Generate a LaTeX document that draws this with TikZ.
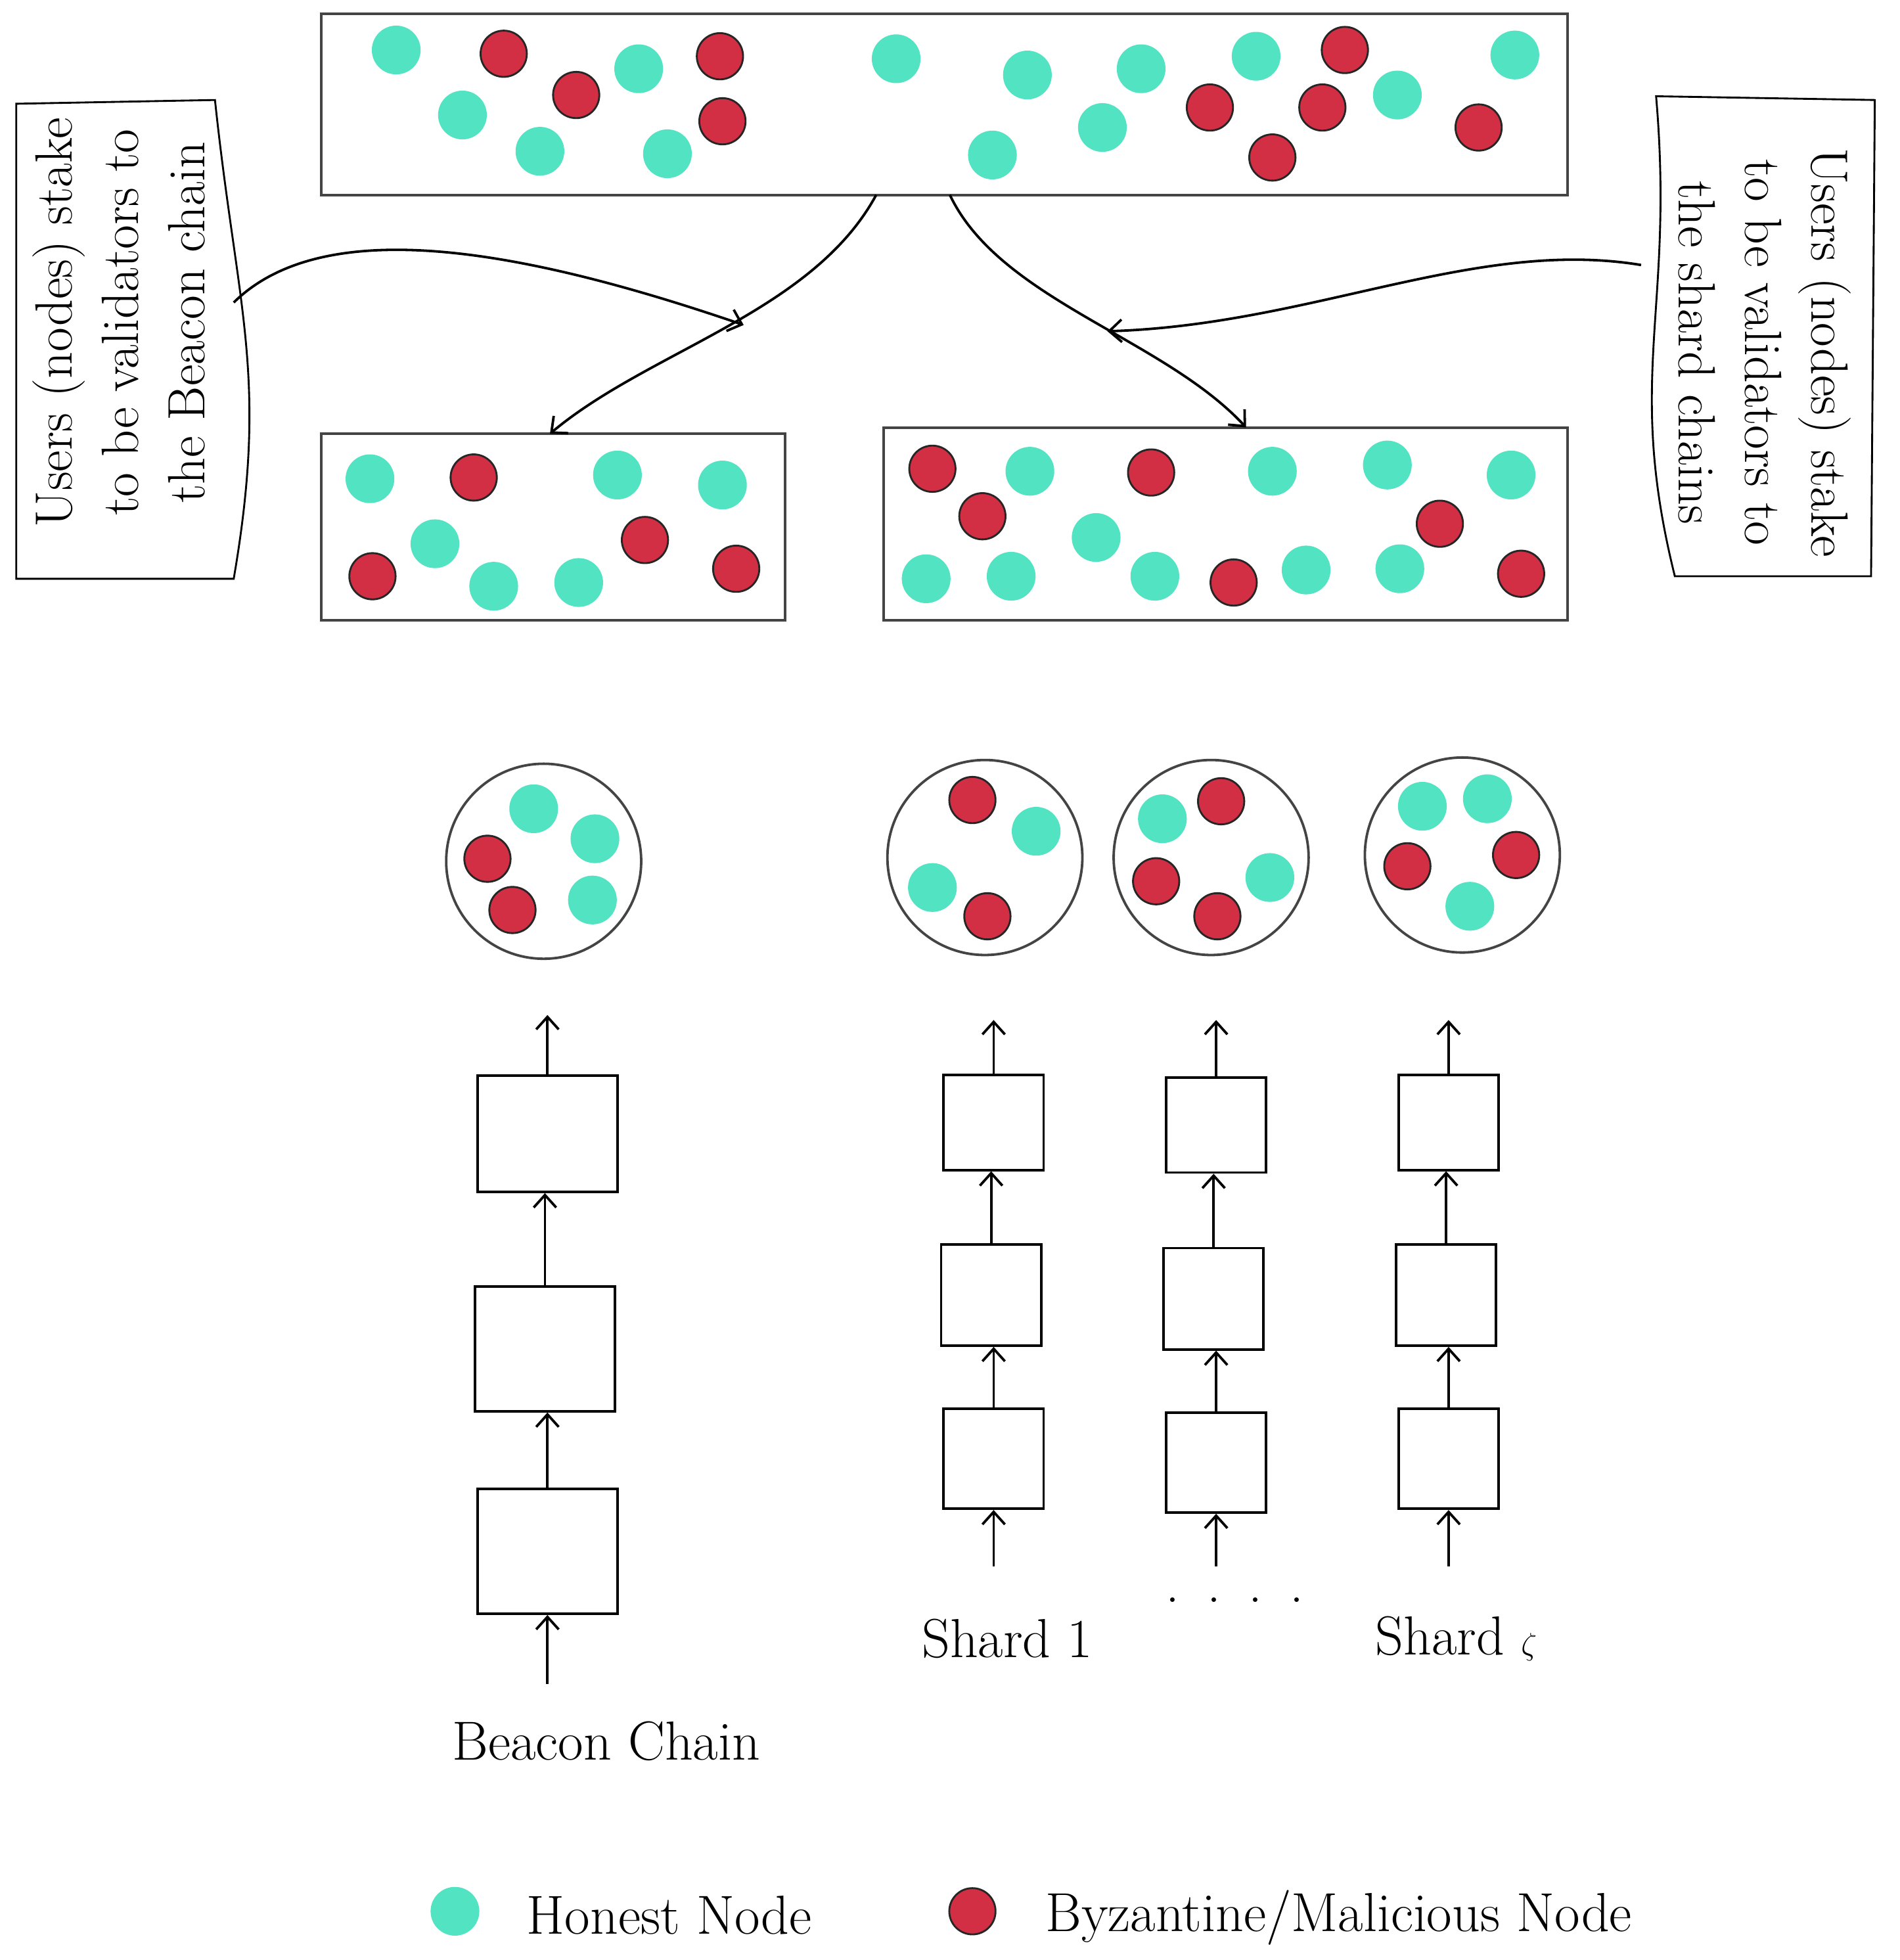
\documentclass[tikz,border=0pt]{standalone}
\usetikzlibrary{arrows.meta}
\definecolor{hon}{HTML}{52E3C2}
\definecolor{byz}{HTML}{D22F45}
\definecolor{frame}{HTML}{444444}
\begin{document}
\begin{tikzpicture}[x=1pt,y=-1pt,
  H/.style={circle,fill=hon,minimum size=39pt,inner sep=0pt},
  B/.style={circle,fill=byz,draw=black!85,line width=1.5pt,minimum size=37pt,inner sep=0pt},
  grp/.style={draw=frame,line width=2pt},
  blk/.style={draw=black,line width=2pt},
  arr/.style={line width=2pt,-{Straight Barb[length=10pt,width=18pt,line width=2pt]}},
  lbl/.style={font=\fontsize{44}{52}\selectfont}]
\useasboundingbox (0,0) rectangle (1520,1568);
\fill[white] (0,0) rectangle (1520,1568);
% group boxes
\draw[grp] (257,11) rectangle (1254,156);
\draw[grp] (257,347) rectangle (628,496);
\draw[grp] (707,342) rectangle (1254,496);
\draw[grp] (435,689) circle (78);
\draw[grp] (788,686) circle (78);
\draw[grp] (969,686) circle (78);
\draw[grp] (1170,684) circle (78);
% honest nodes
\foreach \p [count=\i] in {(317,40),(370,92),(432,121),(511,55),(534,123),(717,47),(822,60),(794,124),(913,55),(882,102),(1005,45),(1118,76),(1212,44),
 (296,383),(348,435),(395,469),(463,466),(494,380),(578,388),
 (824,377),(741,463),(809,461),(877,430),(924,461),(1018,377),(1045,456),(1110,372),(1120,455),(1209,380),
 (427,647),(476,671),(474,720),(829,665),(746,710),(930,655),(1016,702),(1138,645),(1190,639),(1176,725)}
 \node[H] (h\i) at \p {};
% byzantine nodes
\foreach \p [count=\i] in {(403,43),(461,76),(576,45),(578,97),(968,86),(1076,40),(1058,86),(1018,126),(1183,102),
 (379,382),(298,461),(516,432),(589,455),
 (746,375),(786,413),(921,378),(987,466),(1152,419),(1217,459),
 (390,687),(410,728),(778,640),(790,733),(977,641),(925,705),(974,733),(1126,693),(1213,684)}
 \node[B] (m\i) at \p {};
% beacon chain blocks
\node[blk,minimum width=112pt,minimum height=93pt] (bc3) at (438,907) {};
\node[blk,minimum width=112pt,minimum height=100pt] (bc2) at (436,1079) {};
\node[blk,minimum width=112pt,minimum height=100pt] (bc1) at (438,1241) {};
\coordinate (bcin) at (438,1347);
\coordinate (bcout) at (438,812);
\draw[arr] (bcin) -- (bc1.south);
\draw[arr] (bc1.north) -- (bc2.south -| bc1.north);
\draw[arr] (bc2.north) -- (bc3.south -| bc2.north);
\draw[arr] (bc3.north) -- (bcout);
% shard chains
\foreach \c/\x/\ya/\yb/\yc in {a/795/898/1036/1167, b/973/900/1039/1170, c/1159/898/1036/1167}{
  \node[blk,minimum width=80pt,minimum height=76pt] (\c3) at (\x,\ya) {};
  \node[blk,minimum width=80pt,minimum height=81pt] (\c2) at (\x-2,\yb) {};
  \node[blk,minimum width=80pt,minimum height=80pt] (\c1) at (\x,\yc) {};
  \coordinate (\c in) at (\x,1253);
  \coordinate (\c out) at (\x,816);
  \draw[arr] (\c in) -- (\c1.south);
  \draw[arr] (\c1.north) -- (\c2.south -| \c1.north);
  \draw[arr] (\c2.north) -- (\c3.south -| \c2.north);
  \draw[arr] (\c3.north) -- (\c out);
}
% labels
\node[lbl] (lbc) at (485,1393) {Beacon Chain};
\node[lbl] (ls1) at (806,1311) {Shard 1};
\node[lbl] (ldots) at (988,1280) {.\,\,\,.\,\,\,.\,\,\,.};
\node[lbl] (lsz) at (1165,1311) {Shard $\zeta$};
% assignment curves
\coordinate (t1) at (701,156);
\coordinate (t2) at (760,156);
\coordinate (lb) at (440,347);
\coordinate (rb) at (997,342);
\coordinate (m1) at (595,260);
\coordinate (m2) at (886,265);
\draw[arr] (t1) .. controls (650,250) and (520,280) .. (lb);
\draw[arr] (t2) .. controls (800,240) and (930,270) .. (rb);
% notes
\draw[line width=1.5pt] (13,83) -- (172,80) .. controls (190,250) and (215,300) .. (187,463) -- (13,463) -- cycle;
\node[lbl,rotate=90,align=center,font=\fontsize{42}{53}\selectfont] (nl) at (95,258) {Users (nodes) stake\\to be validators to\\the Beacon chain};
\draw[line width=1.5pt] (1325,77) -- (1500,80) -- (1497,461) -- (1340,461) .. controls (1300,300) and (1340,250) .. cycle;
\node[lbl,rotate=-90,align=center,font=\fontsize{42}{53}\selectfont] (nr) at (1412,282) {Users (nodes) stake\\to be validators to\\the shard chains};
\draw[arr] (187,242) .. controls (260,170) and (420,200) .. (m1);
\draw[arr] (1313,212) .. controls (1180,190) and (1050,260) .. (m2);
% legend
\node[H] (lh) at (364,1529) {};
\node[lbl,anchor=west] (lht) at (418,1532) {Honest Node};
\node[B] (lm) at (778,1529) {};
\node[lbl,anchor=west] (lmt) at (833,1534) {Byzantine/Malicious Node};
\end{tikzpicture}
\end{document}
